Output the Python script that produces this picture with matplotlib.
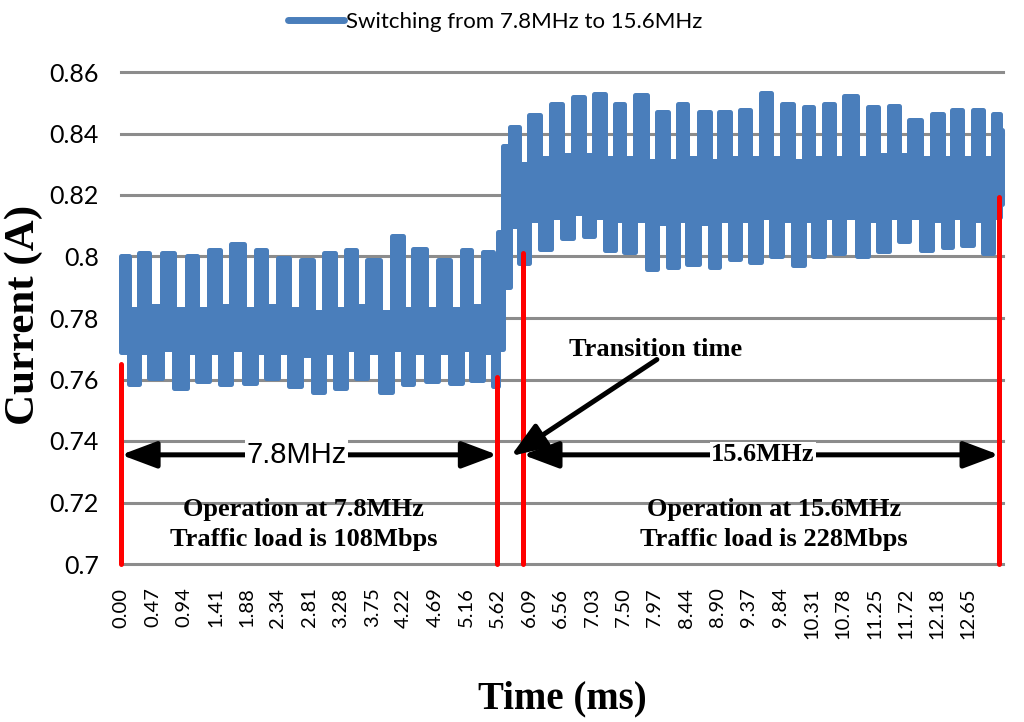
import matplotlib
matplotlib.use("Agg")
import matplotlib.pyplot as plt
from matplotlib.lines import Line2D

time_ms = [0.00, 0.23, 0.32, 0.53, 0.68, 0.90, 1.06, 1.22, 1.40, 1.56,
           1.72, 1.96, 2.07, 2.26, 2.42, 2.59, 2.78, 2.95, 3.12, 3.28,
           3.43, 3.60, 3.75, 3.97, 4.13, 4.28, 4.43, 4.68, 4.78, 5.03,
           5.14, 5.32, 5.50, 5.60, 5.67, 5.75, 5.86, 6.03, 6.16, 6.34,
           6.49, 6.67, 6.82, 6.99, 7.12, 7.32, 7.43, 7.60, 7.76, 7.94,
           8.06, 8.26, 8.36, 8.55, 8.70, 8.89, 8.98, 9.19, 9.29, 9.50,
           9.60, 9.80, 9.95, 10.12, 10.26, 10.41, 10.58, 10.71, 10.89, 11.09,
           11.22, 11.39, 11.53, 11.69, 11.85, 12.03, 12.18, 12.35, 12.45, 12.66,
           12.78, 12.96, 13.09, 13.16]
upper_a = [0.800, 0.783, 0.801, 0.784, 0.801, 0.783, 0.800, 0.783, 0.802, 0.784,
           0.804, 0.783, 0.802, 0.784, 0.7995, 0.783, 0.799, 0.782, 0.801, 0.783,
           0.802, 0.784, 0.799, 0.782, 0.8067, 0.783, 0.8025, 0.783, 0.799, 0.783,
           0.802, 0.784, 0.8016, 0.783, 0.808, 0.836, 0.842, 0.830, 0.846, 0.832,
           0.8495, 0.833, 0.852, 0.833, 0.8527, 0.832, 0.8495, 0.832, 0.8524, 0.831,
           0.847, 0.831, 0.8495, 0.832, 0.847, 0.831, 0.847, 0.832, 0.8478, 0.832,
           0.8532, 0.832, 0.8495, 0.831, 0.8486, 0.832, 0.8495, 0.832, 0.8521, 0.832,
           0.8486, 0.833, 0.8488, 0.833, 0.8445, 0.832, 0.8465, 0.832, 0.8476, 0.832,
           0.8476, 0.832, 0.8465, 0.841]
lower_a = [0.769, 0.7584, 0.769, 0.7606, 0.770, 0.7573, 0.769, 0.7595, 0.769, 0.7584,
           0.770, 0.759, 0.769, 0.7606, 0.769, 0.758, 0.768, 0.756, 0.769, 0.7573,
           0.770, 0.7606, 0.769, 0.756, 0.770, 0.7584, 0.769, 0.7595, 0.769, 0.759,
           0.770, 0.760, 0.769, 0.758, 0.770, 0.790, 0.810, 0.798, 0.812, 0.8025,
           0.813, 0.806, 0.814, 0.8067, 0.813, 0.802, 0.812, 0.8015, 0.812, 0.796,
           0.811, 0.7966, 0.812, 0.7977, 0.811, 0.7966, 0.812, 0.7993, 0.812, 0.7983,
           0.813, 0.8003, 0.812, 0.7973, 0.812, 0.8003, 0.813, 0.801, 0.813, 0.800,
           0.812, 0.8017, 0.813, 0.805, 0.813, 0.802, 0.812, 0.8032, 0.813, 0.8038,
           0.812, 0.801, 0.813, 0.817]

# red markers
marker_t = [0.00, 5.62, 6.00, 13.11]
marker_top = [0.765, 0.7607, 0.801, 0.8194]

tick_labels = ['0.00', '0.47', '0.94', '1.41', '1.88', '2.34', '2.81', '3.28',
               '3.75', '4.22', '4.69', '5.16', '5.62', '6.09', '6.56', '7.03',
               '7.50', '7.97', '8.44', '8.90', '9.37', '9.84', '10.31', '10.78',
               '11.25', '11.72', '12.18', '12.65']
y_ticks = [0.70, 0.72, 0.74, 0.76, 0.78, 0.80, 0.82, 0.84, 0.86]
y_labels = ['0.7', '0.72', '0.74', '0.76', '0.78', '0.8', '0.82', '0.84', '0.86']

blue = '#4a7ebb'
grey = '#8c8c8c'
serif = 'Liberation Serif'

fig = plt.figure(figsize=(10.24, 7.22), dpi=100)
ax = fig.add_axes([121/1024, 1-564/722, (1002.5-121)/1024, (564-72)/722])
ax.set_xlim(0, 13.16)
ax.set_ylim(0.70, 0.86)

for y in y_ticks:
    ax.axhline(y, color=grey, lw=2.2, zorder=1, clip_on=False)

ax.fill_between(time_ms, lower_a, upper_a, step='mid', facecolor=blue,
                edgecolor=blue, lw=3.6, joinstyle='round', zorder=2,
                clip_on=False)

ax.vlines(marker_t, 0.70, marker_top, color='red', lw=3.6, capstyle='round',
          zorder=3, clip_on=False)

# double arrows
arr = dict(arrowstyle='<|-|>,head_length=1.2,head_width=0.45', color='black',
           lw=3.6, mutation_scale=18, shrinkA=0, shrinkB=0)
ax.annotate('', xy=(0.0, 0.7355), xytext=(5.62, 0.7355), arrowprops=arr, zorder=4)
ax.annotate('', xy=(6.0, 0.7355), xytext=(13.11, 0.7355), arrowprops=arr, zorder=4)
ax.text(2.62, 0.7355, '7.8MHz', family='Liberation Sans', fontsize=21,
        ha='center', va='center', zorder=5,
        bbox=dict(facecolor='white', edgecolor='none', pad=1))
ax.text(9.58, 0.7355, '15.6MHz', family=serif, weight='bold', fontsize=19,
        ha='center', va='center', zorder=5,
        bbox=dict(facecolor='white', edgecolor='none', pad=1))

# transition arrow
ax.annotate('', xy=(5.82, 0.7351), xytext=(8.0, 0.7665), zorder=4,
            arrowprops=dict(arrowstyle='-|>,head_length=1.2,head_width=0.45',
                            color='black', lw=3.6, mutation_scale=18,
                            shrinkA=0, shrinkB=0))
ax.text(7.98, 0.7698, 'Transition time', family=serif, weight='bold',
        fontsize=19, ha='center', va='center', zorder=5)

ax.text(2.73, 0.7178, 'Operation at 7.8MHz', family=serif, weight='bold',
        fontsize=19, ha='center', va='center')
ax.text(2.73, 0.7080, 'Traffic load is 108Mbps', family=serif, weight='bold',
        fontsize=19, ha='center', va='center')
ax.text(9.75, 0.7178, 'Operation at 15.6MHz', family=serif, weight='bold',
        fontsize=19, ha='center', va='center')
ax.text(9.75, 0.7080, 'Traffic load is 228Mbps', family=serif, weight='bold',
        fontsize=19, ha='center', va='center')

ax.set_xticks([float(s) for s in tick_labels])
ax.set_xticklabels(tick_labels, rotation=90, family='Lato', fontsize=14.5)
ax.set_yticks(y_ticks)
ax.set_yticklabels(y_labels, family='Lato', fontsize=18)
ax.tick_params(axis='both', length=0)
ax.tick_params(axis='y', pad=16)
ax.tick_params(axis='x', pad=17)
for s in ax.spines.values():
    s.set_visible(False)

ax.set_ylabel('Current (A)', family=serif, weight='bold', fontsize=31)
ax.yaxis.set_label_coords(-0.088, 0.506)
ax.set_xlabel('Time (ms)', family=serif, weight='bold', fontsize=28)
ax.xaxis.set_label_coords(0.501, -0.236)

h = Line2D([], [], color=blue, lw=5, solid_capstyle='round')
fig.legend([h], ['Switching from 7.8MHz to 15.6MHz'], loc='center left',
           bbox_to_anchor=(288/1024, 1-22/722), frameon=False, borderpad=0,
           borderaxespad=0, handlelength=2.5, handletextpad=0.12,
           prop={'family': 'Lato', 'size': 16})

fig.savefig('out.png', dpi=100)
